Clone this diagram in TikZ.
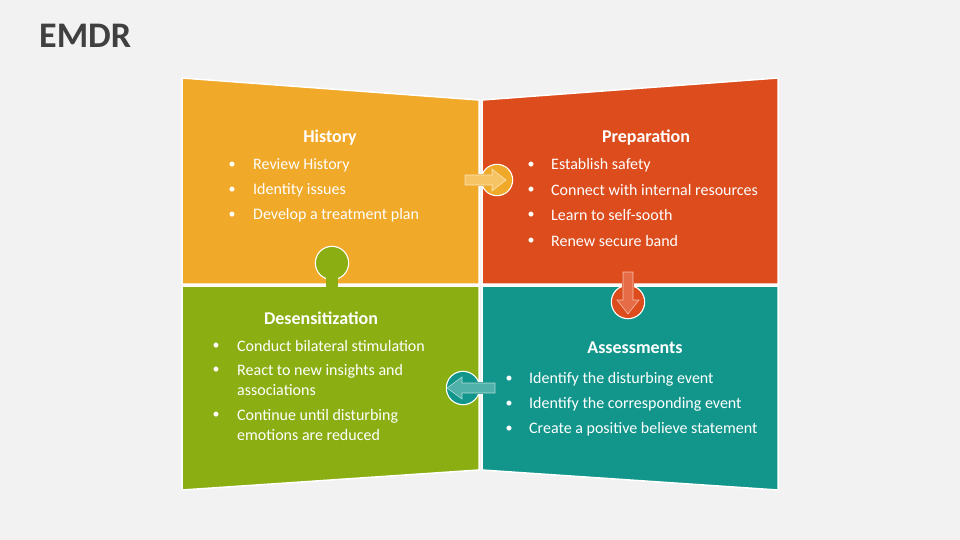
\documentclass[tikz,border=0pt]{standalone}
\usepackage{fontspec}
\setmainfont{Carlito}
\begin{document}
\begin{tikzpicture}[x=1pt,y=-1pt,
  quad/.style={draw=white,line width=1.5pt,line join=miter},
  knobw/.style={draw=white,line width=2.5pt},
  btxt/.style={anchor=west,text=white,font=\fontsize{16}{20}\selectfont,align=left,inner sep=0pt},
  dot/.style={text=white,font=\fontsize{14}{16}\selectfont,inner sep=0pt},
  head/.style={text=white,font=\bfseries\fontsize{18}{20}\selectfont,inner sep=0pt},
  arr/.style={draw=white,line width=0.6pt,opacity=0.6}]
\definecolor{cy}{HTML}{F0A929}
\definecolor{cr}{HTML}{DC4C1C}
\definecolor{cg}{HTML}{8BAE13}
\definecolor{ct}{HTML}{12968B}
\fill[fill={rgb,255:red,242;green,242;blue,242}] (0,0) rectangle (960,540);
\useasboundingbox (0,0) rectangle (960,540);
\node[anchor=west,text={rgb,255:red,64;green,64;blue,64},font=\bfseries\fontsize{36}{38}\selectfont,inner sep=0pt] (title) at (39,36) {EMDR};
% quadrants
\filldraw[quad,fill=cy] (182,78) -- (479,100) -- (479,284) -- (182,284) -- cycle;
\filldraw[quad,fill=cr] (482,100) -- (778,78) -- (778,284) -- (482,284) -- cycle;
\filldraw[quad,fill=cg] (182,286) -- (479,286) -- (479,470) -- (182,490) -- cycle;
\filldraw[quad,fill=ct] (482,286) -- (778,286) -- (778,490) -- (482,470) -- cycle;
% knobs: outline then fill
\draw[knobw] (497,180) circle (15);
\draw[knobw] (332,263) circle (16);
\draw[knobw] (628,302) circle (16);
\draw[knobw] (463,388) circle (16);
\fill[cy] (497,180) circle (15); \fill[cy] (474,174) rectangle (490,186);
\fill[cg] (332,263) circle (16); \fill[cg] (326,270) rectangle (338,290);
\fill[cr] (628,302) circle (16); \fill[cr] (622,280) rectangle (634,296);
\fill[ct] (463,388) circle (16); \fill[ct] (470,382) rectangle (486,394);
% arrows
\filldraw[arr,fill={rgb,255:red,250;green,215;blue,140}] (465,175) -- (492,175) -- (492,169) -- (506,180) -- (492,191) -- (492,185) -- (465,185) -- cycle;
\filldraw[arr,fill={rgb,255:red,235;green,130;blue,100}] (623,272) -- (633,272) -- (633,300) -- (639,300) -- (628,314) -- (617,300) -- (623,300) -- cycle;
\filldraw[arr,fill={rgb,255:red,120;green,195;blue,190}] (495,383) -- (462,383) -- (462,377) -- (447,388) -- (462,399) -- (462,393) -- (495,393) -- cycle;
% History
\node[head] (h1) at (330,138) {History};
\foreach \y/\t [count=\i] in {165/Review History,190/Identity issues,215/Develop a treatment plan}{
  \node[dot] (hd\i) at (232,\y) {•}; \node[btxt] (ht\i) at (253,\y) {\t};}
% Preparation
\node[head] (p1) at (646,138) {Preparation};
\foreach \y/\t [count=\i] in {165/Establish safety,190/Connect with internal resources,215/Learn to self-sooth,241/Renew secure band}{
  \node[dot] (pd\i) at (531,\y) {•}; \node[btxt] (pt\i) at (551,\y) {\t};}
% Desensitization
\node[head] (d1) at (321,318) {Desensitization};
\node[dot] (dd1) at (216,346) {•}; \node[btxt] (dt1) at (237,346) {Conduct bilateral stimulation};
\node[dot] (dd2) at (216,370) {•}; \node[btxt] (dt2) at (237,380) {React to new insights and\\associations};
\node[dot] (dd3) at (216,415) {•}; \node[btxt] (dt3) at (237,425) {Continue until disturbing\\emotions are reduced};
% Assessments
\node[head] (a1) at (635,348) {Assessments};
\foreach \y/\t [count=\i] in {379/Identify the disturbing event,404/Identify the corresponding event,429/Create a positive believe statement}{
  \node[dot] (ad\i) at (509,\y) {•}; \node[btxt] (at\i) at (529,\y) {\t};}
\end{tikzpicture}
\end{document}
